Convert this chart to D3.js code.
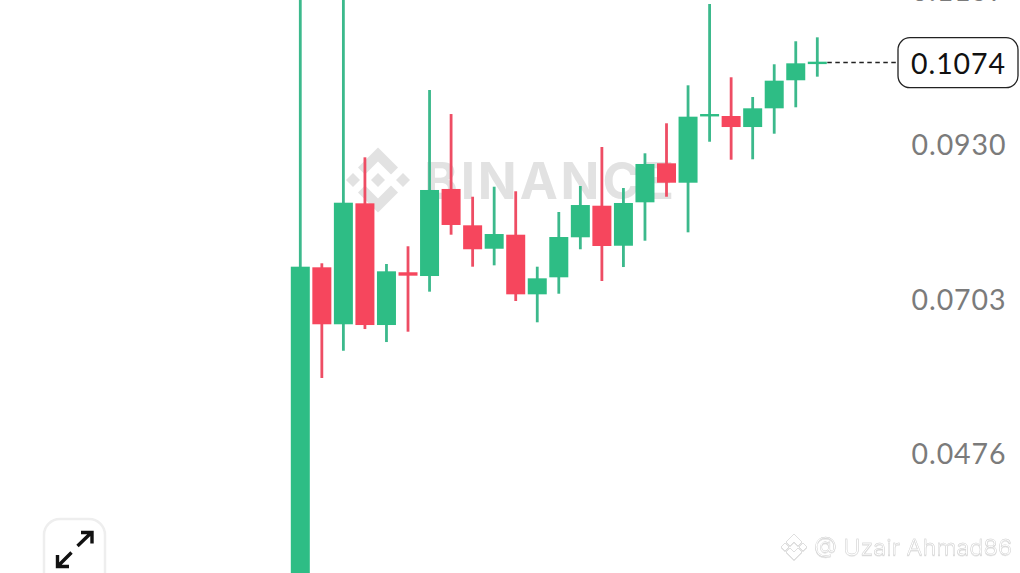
<!DOCTYPE html>
<html><head><meta charset="utf-8">
<script src="https://cdn.jsdelivr.net/npm/d3@7"></script>
<style>html,body{margin:0;padding:0;background:#fff;overflow:hidden}svg{display:block}</style>
</head><body><svg id="c" width="1020" height="573"></svg>
<script>
const opens  = [.02027,.07503,.06666,.08443,.06655,.0743,.07375,.08654,.0812,.07776,.07982,.07106,.07356,.07944,.08408,.0782,.08458,.09031,.08746,.09722,.09726,.09564,.09839,.10251,.105];
const closes = [.07512,.06666,.08452,.06655,.07444,.0738,.08639,.08125,.07768,.07992,.07106,.07341,.07948,.08418,.07816,.08448,.09021,.08746,.09716,.09755,.09564,.09839,.10245,.105,.10524];
const highs  = [.12018,.07562,.12018,.09119,.07552,.07812,.10108,.09755,.0854,.08687,.0862,.07512,.08316,.08698,.09271,.08668,.09178,.09619,.10177,.11372,.10295,.10005,.10486,.10824,.10882];
const lows   = [.02000,.05877,.06278,.06596,.06405,.06557,.07145,.07982,.07512,.07532,.07008,.06695,.07115,.07768,.07302,.07507,.07894,.0854,.08017,.09348,.09084,.0909,.09466,.09854,.10304];
const tickValues = [0.1157,0.0930,0.0703,0.0476];
const lastLabel = "0.1074";
const lastLevel = 0.10512;

const GREEN="#2EBD85", RED="#F6465D";
const svg=d3.select("#c");
const FONT="Lato, 'Open Sans', sans-serif";
const x=d3.scaleLinear().domain([0,opens.length-1]).range([300.3,817.3]);
const y=d3.scaleLinear().domain([0.0476,0.1157]).range([454,-9.5]);
const candles=opens.map((o,i)=>({i,o,c:closes[i],h:highs[i],l:lows[i]}));
const bw=19;

// Watermark
const wm=svg.append("g").attr("fill","#e2e2e2");
const logo=wm.append("g").attr("transform","translate(378,180)");
[[0,0,7],[-25,0,7],[25,0,7]].forEach(([cx,cy,r])=>{
  logo.append("path").attr("d",`M${cx-r},${cy}L${cx},${cy-r}L${cx+r},${cy}L${cx},${cy+r}Z`);
});
logo.append("path").attr("d","M0,-32.5L20,-12.5L13,-5.5L0,-18.5L-13,-5.5L-20,-12.5Z");
logo.append("path").attr("d","M0,32.5L20,12.5L13,5.5L0,18.5L-13,5.5L-20,12.5Z");
wm.append("text").attr("x",424).attr("y",199).attr("font-family","Inter, sans-serif")
  .attr("font-weight",700).attr("font-size",51).attr("textLength",250).attr("lengthAdjust","spacing").text("BINANCE");

// Candles
const g=svg.append("g");
g.selectAll("line.w").data(candles).join("line").attr("class","w")
  .attr("x1",d=>x(d.i)).attr("x2",d=>x(d.i)).attr("y1",d=>y(d.h)).attr("y2",d=>y(d.l))
  .attr("stroke",d=>d.c>=d.o?"#3CB98C":"#EE4D64").attr("stroke-width",2.8);
g.selectAll("rect.b").data(candles).join("rect").attr("class","b")
  .attr("x",d=>x(d.i)-bw/2).attr("width",bw)
  .attr("y",d=>y(Math.max(d.o,d.c)))
  .attr("height",d=>Math.max(2.4,Math.abs(y(d.o)-y(d.c))))
  .attr("fill",d=>d.c>=d.o?GREEN:RED);

// Price axis labels
svg.append("g").selectAll("text").data(tickValues).join("text")
  .attr("x",959).attr("y",d=>y(d)).attr("dy","0.36em").attr("text-anchor","middle")
  .attr("font-family",FONT).attr("font-size",28.5).attr("letter-spacing",0.9).attr("fill","#7b7b7b")
  .text(d=>d.toFixed(4));

// Last price line + label
const ly=y(lastLevel);
svg.append("line").attr("x1",x(24)+10).attr("x2",897).attr("y1",ly).attr("y2",ly)
  .attr("stroke","#222").attr("stroke-width",1.3).attr("stroke-dasharray","4.5,3.5");
svg.append("rect").attr("x",898).attr("y",ly-24.8).attr("width",120).attr("height",50).attr("rx",12)
  .attr("fill","#fff").attr("stroke","#222").attr("stroke-width",1.3);
svg.append("text").attr("x",958.5).attr("y",ly+1).attr("dy","0.36em").attr("text-anchor","middle")
  .attr("font-family",FONT).attr("font-size",28.5).attr("letter-spacing",0.9).attr("fill","#111").text(lastLabel);

// Expand button
svg.append("rect").attr("x",44).attr("y",519).attr("width",61).attr("height",80).attr("rx",16)
  .attr("fill","#fff").attr("stroke","#eeeeee").attr("stroke-width",2.5);
const arrows=svg.append("g").attr("fill","none").attr("stroke","#111").attr("stroke-width",3.4);
arrows.append("path").attr("d","M77.5,546L92,532M81,532.5H92V543.5");
arrows.append("path").attr("d","M71.5,552.5L57.5,566.5M57.5,555V566.5H69");

// Author watermark
const filt=svg.append("defs").append("filter").attr("id","sh");
filt.append("feDropShadow").attr("dx",0).attr("dy",0.6).attr("stdDeviation",0.6).attr("flood-color","#aaa").attr("flood-opacity",0.55);
const au=svg.append("g").attr("filter","url(#sh)");
const small=au.append("g").attr("transform","translate(794,547)").attr("fill","#fff").attr("stroke","#d8d8d8").attr("stroke-width",0.8);
small.append("path").attr("d","M0,-13L8,-5L4,-1L0,-5L-4,-1L-8,-5Z");
small.append("path").attr("d","M0,13L8,5L4,1L0,5L-4,1L-8,5Z");
small.append("path").attr("d","M-13,0L-9,-4L-5,0L-9,4Z");
small.append("path").attr("d","M13,0L9,-4L5,0L9,4Z");
au.append("text").attr("x",814).attr("y",555).attr("font-family","Inter, sans-serif").attr("font-weight",300).attr("font-size",22)
  .attr("fill","#fff").attr("stroke","#cfcfcf").attr("stroke-width",0.35).attr("textLength",198).attr("lengthAdjust","spacingAndGlyphs").text("@ Uzair Ahmad86");
</script></body></html>
